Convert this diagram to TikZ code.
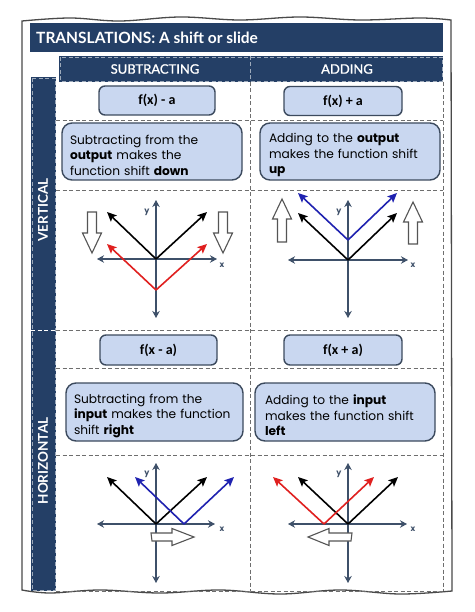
\documentclass[tikz,border=0pt]{standalone}
\usepackage{fontspec}
\setmainfont{Poppins}
\newfontfamily\latof{Lato}
\newfontfamily\latomed[FakeBold=1.2]{Lato}
\newfontfamily\carlf{Carlito}
\usetikzlibrary{arrows.meta}
\definecolor{navy}{HTML}{243F66}
\definecolor{lightbl}{HTML}{C9D7F0}
\definecolor{boxedge}{HTML}{3C4A5E}
\definecolor{axiscol}{HTML}{3E5069}
\definecolor{vred}{HTML}{E0201F}
\definecolor{vblue}{HTML}{1F22B0}
\definecolor{sepgray}{HTML}{6E6E6E}
\definecolor{framecol}{HTML}{4A4A4A}
\definecolor{hollowcol}{HTML}{555555}
\newcommand{\tstrut}{\rule{0pt}{17pt}}
\begin{document}
\begin{tikzpicture}[x=1pt,y=-1pt,
  dashsep/.style={draw=sepgray, line width=0.8pt, dash pattern=on 4pt off 2.5pt},
  whitedash/.style={draw=navy!45!white, line width=0.7pt, dash pattern=on 4pt off 2.5pt},
  fbox/.style={draw=boxedge, fill=lightbl, line width=1.4pt, rounded corners=6pt,
    minimum height=29pt, inner sep=0pt, font=\carlf\bfseries\fontsize{14}{15}\selectfont},
  tbox/.style={draw=boxedge, fill=lightbl, line width=1.4pt, rounded corners=10pt,
    align=left, inner xsep=8pt, inner ysep=0pt, minimum height=57pt,
    font=\fontsize{12.2}{15.5}\selectfont},
  head/.style={text=white, font=\latomed\fontsize{13}{15}\selectfont, inner sep=0pt},
  band/.style={text=white, font=\latof\bfseries\fontsize{13.5}{15}\selectfont, rotate=90, inner sep=0pt},
  axis/.style={draw=axiscol, line width=1.8pt,
    {Stealth[length=7pt,width=7.5pt]}-{Stealth[length=7pt,width=7.5pt]}},
  vline/.style={line width=1.6pt, -{Stealth[length=9.5pt,width=8.5pt,inset=2pt]}},
  lab/.style={font=\fontsize{8}{9}\selectfont\bfseries, text=axiscol, inner sep=0pt},
  hollow/.style={draw=hollowcol, fill=white, line width=1.1pt, line join=miter}
]
\useasboundingbox (0,0) rectangle (474,612);
\fill[white] (0,0) rectangle (474,612);

% paper frame
\draw[framecol, line width=1.3pt, fill=white]
  plot[smooth, tension=0.6] coordinates {(22,21) (70,18) (120,21) (180,17) (240,20) (300,17) (360,20) (420,18) (451,20)}
  -- plot[smooth, tension=0.6] coordinates {(452,591) (400,594) (340,590) (280,594) (220,590) (160,593) (100,590) (50,593) (22,590)}
  -- cycle;

% title bar
\fill[navy] (30,23) rectangle (443,52);
\node[anchor=west, text=white, font=\latof\bfseries\fontsize{15.5}{17}\selectfont, inner sep=0pt] (title) at (36,38) {TRANSLATIONS: A shift or slide};

% column header bar
\fill[navy] (59,56) rectangle (443,82);
\draw[whitedash] (60,57) rectangle (442,81);
\draw[whitedash] (250,56) -- (250,82);
\node[head] (hsub) at (155,69) {SUBTRACTING};
\node[head] (hadd) at (347,69) {ADDING};

% left band
\fill[navy] (31,77) rectangle (56,591);
\draw[whitedash] (32,78) rectangle (55,590);
\draw[draw=white, line width=0.8pt, dash pattern=on 4pt off 2.5pt] (31,330) -- (56,330);
\node[band] (bvert) at (43,210) {VERTICAL};
\node[band] (bhor) at (43,461) {HORIZONTAL};

% content grid
\foreach \yy in {120,190,330,368,455}
  \draw[dashsep] (56,\yy) -- (443,\yy);
\draw[dashsep] (250,82) -- (250,591);
\draw[dashsep] (443,82) -- (443,591);
\draw[dashsep] (56,591) -- (443,591);

% formula boxes
\node[fbox, minimum width=116pt] (f1) at (157,100.5) {f(x) - a};
\node[fbox, minimum width=118pt] (f2) at (343,101) {f(x) + a};
\node[fbox, minimum width=117pt, minimum height=30pt] (f3) at (158.5,350) {f(x - a)};
\node[fbox, minimum width=118pt, minimum height=30pt] (f4) at (343,350) {f(x + a)};

% text boxes
\node[tbox, text width=164pt] (t1) at (152,151.5) {\tstrut Subtracting from the\\\textbf{output} makes the\\function shift \textbf{down}};
\node[tbox, text width=162pt, inner xsep=9pt] (t2) at (350,151.5) {\tstrut Adding to the \textbf{output}\\makes the function shift\\\textbf{up}};
\node[tbox, text width=161pt, minimum height=58pt] (t3) at (154.5,412) {\tstrut Subtracting from the\\\textbf{input} makes the function\\shift \textbf{right}};
\node[tbox, text width=160pt, inner xsep=10pt, minimum height=58pt] (t4) at (345,412) {\tstrut Adding to the \textbf{input}\\makes the function shift\\\textbf{left}};

% ---------- panel 1: vertical, subtracting ----------
\coordinate (a1l) at (97,259); \coordinate (a1r) at (217,259);
\coordinate (a1t) at (156,200); \coordinate (a1b) at (156,318);
\draw[axis] (a1l) -- (a1r);
\draw[axis] (a1t) -- (a1b);
\node[lab] (y1) at (147,212) {y};
\node[lab] (x1) at (222,265) {x};
\coordinate (k1) at (156,259);
\coordinate (k1a) at (107,212); \coordinate (k1b) at (207,212);
\draw[vline] (k1) -- (k1a);
\draw[vline] (k1) -- (k1b);
\coordinate (r1) at (156,290);
\coordinate (r1a) at (107,244); \coordinate (r1b) at (207,244);
\draw[vline, vred] (r1) -- (r1a);
\draw[vline, vred] (r1) -- (r1b);
\draw[hollow] (87.5,212) -- (96.5,212) -- (96.5,233) -- (101.5,233) -- (92,253) -- (82.5,233) -- (87.5,233) -- cycle;
\draw[hollow] (218.5,212) -- (227.5,212) -- (227.5,233) -- (232.5,233) -- (223,253) -- (213.5,233) -- (218.5,233) -- cycle;

% ---------- panel 2: vertical, adding ----------
\coordinate (a2l) at (288,260); \coordinate (a2r) at (408,260);
\coordinate (a2t) at (348,200); \coordinate (a2b) at (348,318);
\draw[axis] (a2l) -- (a2r);
\draw[axis] (a2t) -- (a2b);
\node[lab] (y2) at (339,212) {y};
\node[lab] (x2) at (413,265) {x};
\coordinate (k2) at (348,260);
\coordinate (k2a) at (298,213); \coordinate (k2b) at (397,213);
\draw[vline] (k2) -- (k2a);
\draw[vline] (k2) -- (k2b);
\coordinate (b2) at (348,240);
\coordinate (b2a) at (298,193); \coordinate (b2b) at (397,193);
\draw[vline, vblue] (b2) -- (b2a);
\draw[vline, vblue] (b2) -- (b2b);
\draw[hollow] (277.5,242) -- (286.5,242) -- (286.5,219) -- (291.5,219) -- (282,199) -- (272.5,219) -- (277.5,219) -- cycle;
\draw[hollow] (408.5,244) -- (417.5,244) -- (417.5,222) -- (422.5,222) -- (413,202) -- (403.5,222) -- (408.5,222) -- cycle;

% ---------- panel 3: horizontal, subtracting ----------
\coordinate (a3l) at (97,524); \coordinate (a3r) at (215,524);
\coordinate (a3t) at (156,463); \coordinate (a3b) at (156,583);
\draw[axis] (a3l) -- (a3r);
\draw[axis] (a3t) -- (a3b);
\node[lab] (y3) at (147,474) {y};
\node[lab] (x3) at (222,529) {x};
\coordinate (k3) at (156,524);
\coordinate (k3a) at (107,477); \coordinate (k3b) at (207,477);
\draw[vline] (k3) -- (k3a);
\draw[vline] (k3) -- (k3b);
\coordinate (b3) at (184,524);
\coordinate (b3a) at (135,477); \coordinate (b3b) at (234,477);
\draw[vline, vblue] (b3) -- (b3a);
\draw[vline, vblue] (b3) -- (b3b);
\draw[hollow] (151,533) -- (172,533) -- (172,528.5) -- (194,537) -- (172,545.5) -- (172,541) -- (152,541) -- cycle;

% ---------- panel 4: horizontal, adding ----------
\coordinate (a4l) at (288,524); \coordinate (a4r) at (407,524);
\coordinate (a4t) at (348,463); \coordinate (a4b) at (348,583);
\draw[axis] (a4l) -- (a4r);
\draw[axis] (a4t) -- (a4b);
\node[lab] (y4) at (339,474) {y};
\node[lab] (x4) at (413,529) {x};
\coordinate (k4) at (348,524);
\coordinate (k4a) at (298,477); \coordinate (k4b) at (398,477);
\draw[vline] (k4) -- (k4a);
\draw[vline] (k4) -- (k4b);
\coordinate (r4) at (324,524);
\coordinate (r4a) at (273,477); \coordinate (r4b) at (374,477);
\draw[vline, vred] (r4) -- (r4a);
\draw[vline, vred] (r4) -- (r4b);
\draw[hollow] (352,533) -- (329,533) -- (329,528.5) -- (308,537) -- (329,545.5) -- (329,541) -- (351,541) -- cycle;
\end{tikzpicture}
\end{document}
